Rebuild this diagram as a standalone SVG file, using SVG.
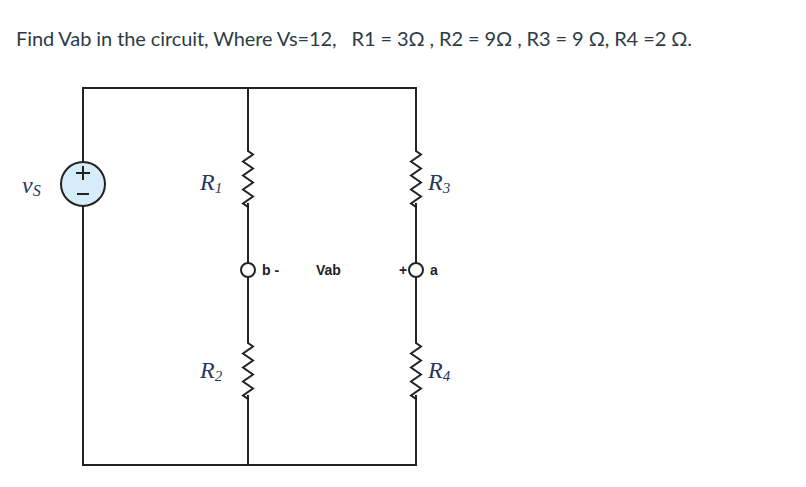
<svg xmlns="http://www.w3.org/2000/svg" width="806" height="487" viewBox="0 0 806 487">
<style>
.w{stroke:#222;stroke-width:2;fill:none}
.r{stroke:#222;stroke-width:2;fill:none;stroke-linejoin:miter}
.lab{font-family:"Liberation Serif",serif;font-style:italic;font-size:24px;fill:#2a3560}
.sm{font-family:"Liberation Sans",sans-serif;font-weight:bold;font-size:14px;fill:#222}
</style>
<rect width="806" height="487" fill="#fff"/>
<text x="16" y="46" font-family="Lato,sans-serif" font-size="20" fill="#2d3b45" xml:space="preserve" textLength="676" lengthAdjust="spacing">Find Vab in the circuit, Where Vs=12,   R1 = 3Ω , R2 = 9Ω , R3 = 9 Ω, R4 =2 Ω.</text>
<defs>
<path id="zz" d="M0,0 l0,3 l5,3.5 l-10,7 l10,7 l-10,7 l10,7 l-10,7 l10,7 l-10,7 l5,3.5 l0,3" class="r"/>
</defs>
<g id="connectors">
<path class="w" d="M83,162 V88 H416 V148"/>
<path class="w" d="M83,206 V465 H416 V395"/>
<path class="w" d="M248,88 V148 M248,203 V263 M248,277 V340 M248,395 V465"/>
<path class="w" d="M416,203 V263 M416,277 V340"/>
</g>
<g id="Vs">
<circle cx="83" cy="184" r="22" fill="#d6ecfb" stroke="#222" stroke-width="2"/>
<path d="M76,173 h14 M83,166 v14 M77,194 h12" stroke="#222" stroke-width="2"/>
<text x="22" y="193" class="lab" font-size="20">v<tspan font-size="16" dy="3">S</tspan></text>
</g>
<g id="R1"><use href="#zz" x="248" y="148"/><text x="200" y="190" class="lab">R<tspan font-size="15" dy="3">1</tspan></text></g>
<g id="R2"><use href="#zz" x="248" y="340"/><text x="200" y="378" class="lab">R<tspan font-size="15" dy="3">2</tspan></text></g>
<g id="R3"><use href="#zz" x="416" y="148"/><text x="428" y="190" class="lab">R<tspan font-size="15" dy="3">3</tspan></text></g>
<g id="R4"><use href="#zz" x="416" y="340"/><text x="428" y="378" class="lab">R<tspan font-size="15" dy="3">4</tspan></text></g>
<g id="b"><circle cx="248" cy="270" r="7" fill="#fff" stroke="#222" stroke-width="2"/><text x="262" y="275" class="sm">b -</text></g>
<g id="Vab"><text x="316" y="275" class="sm">Vab</text></g>
<g id="a"><circle cx="416" cy="270" r="7" fill="#fff" stroke="#222" stroke-width="2"/><text x="399" y="275" class="sm" font-size="12">+</text><text x="430" y="275" class="sm">a</text></g>
</svg>
